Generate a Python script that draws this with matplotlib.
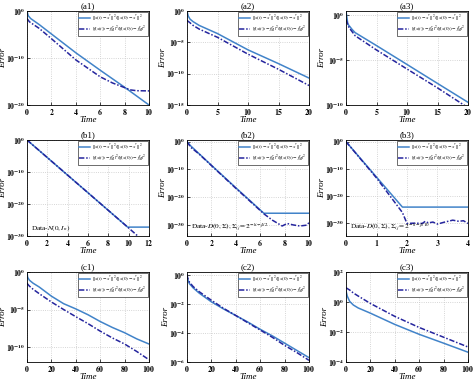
import numpy as np
import matplotlib
matplotlib.use("Agg")
import matplotlib.pyplot as plt
from matplotlib.ticker import FixedLocator, FuncFormatter, NullLocator

plt.rcParams['font.family'] = ['Liberation Serif', 'DejaVu Serif']
plt.rcParams['mathtext.fontset'] = 'stix'

C_SOLID = '#4183c9'
C_DASH = '#25259e'

LEG1 = r'$\|x(t)-x^{*}\|^2/\|x(0)-x^{*}\|^2$'
LEG2 = r'$|f(x(t))-f_{M}^{*}|^2/|f(x(0))-f_{M}^{*}|^2$'

# ---------------- data ----------------
a1_ts = [0, 0.1, 0.3, 1, 2, 4, 6, 8, 10]
a1_s = [1.0, 1e-1, 2.5e-2, 1.3e-3, 1.3e-5, 1.3e-9, 2.5e-13, 6e-17, 1e-20]
a1_td = [0, 0.2, 1, 2, 4, 6, 7, 8, 8.5, 9, 10]
a1_d = [2.5e-2, 5e-3, 2e-4, 1.3e-6, 4e-11, 1e-14, 5e-16, 5e-17, 1.6e-17, 1.1e-17, 1e-17]

a2_ts = [0, 0.2, 0.5, 1, 2, 5, 10, 15, 20]
a2_s = [1.0, 1.6e-1, 5e-2, 2e-2, 5e-3, 2.5e-4, 6.3e-7, 4e-9, 2e-11]
a2_td = [0, 0.5, 1, 2, 5, 10, 15, 20]
a2_d = [3.2e-2, 1.3e-2, 5e-3, 1.3e-3, 6.3e-5, 1.3e-7, 5e-10, 1.3e-12]

a3_ts = [0, 0.3, 1, 1.5, 5, 10, 15, 20]
a3_s = [2.8, 1e-1, 2.5e-2, 1.1e-2, 4e-4, 3.2e-6, 2.5e-8, 2e-10]
a3_td = [0, 0.5, 1.5, 5, 10, 15, 20]
a3_d = [3.2e-1, 4e-2, 5e-3, 1.3e-4, 1e-6, 8e-9, 5e-11]

b1_ts = [0, 2, 4, 6, 8, 9.9, 12]
b1_s = [1.0, 3.2e-6, 1e-11, 3.2e-17, 1e-22, 6e-28, 6e-28]
b1_td = [0, 2, 4, 6, 8, 10, 11]
b1_d = [1.0, 3.2e-6, 1e-11, 3.2e-17, 1e-22, 3.2e-28, 5e-31]

b2_ts = [0, 0.3, 2, 4, 6.3, 10]
b2_s = [1.0, 3.2e-2, 3.2e-9, 2.5e-17, 1.6e-26, 1.6e-26]
b2_td = [0, 0.3, 1, 2, 4, 6.3, 7, 7.5, 7.8, 8.2, 8.7, 9.25, 9.8, 10]
b2_d = [1.0, 1e-2, 3.2e-5, 2.5e-9, 1.6e-17, 1e-26, 5e-29, 2.5e-30, 4e-31, 3.2e-30, 1e-30, 4e-31, 8e-31, 6e-30]

b3_ts = [0, 1.0, 1.85, 4]
b3_s = [1.0, 1e-13, 1e-24, 1e-24]
b3_td = [0, 1.0, 1.85, 2.0, 2.25, 2.5, 2.6, 2.7, 2.85, 3.0, 3.2, 3.5, 3.7, 3.85, 4.0]
b3_d = [1.0, 5e-14, 1e-26, 1e-30, 1.3e-30, 1e-30, 6e-30, 1.6e-30, 3.2e-30, 6e-31, 2.5e-30, 1.6e-29, 6e-30, 1e-29, 1e-30]

c_t = [0, 0.5, 2, 5, 10, 20, 30, 40, 50, 60, 70, 80, 90, 100]
c1_s = [1.0, 2e-1, 8e-2, 3.2e-2, 1e-2, 6e-4, 6e-5, 1.2e-5, 2e-6, 2.5e-7, 4e-8, 8e-9, 1.2e-9, 2.5e-10]
c1_d = [3.2e-2, 2.5e-2, 1.3e-2, 5e-3, 1.3e-3, 1e-4, 1e-5, 1.1e-6, 1.3e-7, 1.3e-8, 1.6e-9, 2.5e-10, 2.5e-11, 2e-12]
c2_s = [1.0, 5e-1, 2.5e-1, 1.3e-1, 5.6e-2, 1.4e-2, 4.5e-3, 1.6e-3, 5.6e-4, 1.8e-4, 6.3e-5, 2e-5, 6.3e-6, 2e-6]
c2_d = [1.1, 6.3e-1, 3.2e-1, 1.6e-1, 7e-2, 1.8e-2, 5e-3, 1.6e-3, 5e-4, 1.6e-4, 5e-5, 1.4e-5, 4.5e-6, 1.3e-6]
c3_ts = [0, 1, 3, 6, 10, 20, 40, 60, 80, 100]
c3_s = [5.6, 2.5, 1.1, 6.3e-1, 4e-1, 1.8e-1, 3.2e-2, 7e-3, 1.8e-3, 4.5e-4]
c3_d = [8.9, 7.9, 6.3, 4e-0, 2.5, 8e-1, 1.1e-1, 2e-2, 4.5e-3, 1e-3]

panels = [
    dict(title='(a1)', ts=a1_ts, s=a1_s, td=a1_td, d=a1_d, xlim=(0, 10), xt=[0, 2, 4, 6, 8, 10],
         ylim=(1e-20, 1e0), yt=[0, -10, -20], note=None),
    dict(title='(a2)', ts=a2_ts, s=a2_s, td=a2_td, d=a2_d, xlim=(0, 20), xt=[0, 5, 10, 15, 20],
         ylim=(1e-15, 1e0), yt=[0, -5, -10, -15], note=None),
    dict(title='(a3)', ts=a3_ts, s=a3_s, td=a3_td, d=a3_d, xlim=(0, 20), xt=[0, 5, 10, 15, 20],
         ylim=(1e-10, 2.8e0), yt=[0, -5, -10], note=None),
    dict(title='(b1)', ts=b1_ts, s=b1_s, td=b1_td, d=b1_d, xlim=(0, 12), xt=[0, 2, 4, 6, 8, 10, 12],
         ylim=(1e-30, 1e0), yt=[0, -10, -20, -30], note=r'Data-$N(0,I_n)$'),
    dict(title='(b2)', ts=b2_ts, s=b2_s, td=b2_td, d=b2_d, xlim=(0, 10), xt=[0, 2, 4, 6, 8, 10],
         ylim=(1e-34, 4e0), yt=[0, -10, -20, -30], note=r'Data-$D(0,\Sigma),\Sigma_{ij}=2^{-|i-j|/2}$'),
    dict(title='(b3)', ts=b3_ts, s=b3_s, td=b3_td, d=b3_d, xlim=(0, 4), xt=[0, 1, 2, 3, 4],
         ylim=(2.5e-35, 4e0), yt=[0, -10, -20, -30], note=r'Data-$D(0,\Sigma),\Sigma_{ij}=2^{-|i-j|/10}$'),
    dict(title='(c1)', ts=c_t, s=c1_s, td=c_t, d=c1_d, xlim=(0, 100), xt=[0, 20, 40, 60, 80, 100],
         ylim=(1e-12, 1e0), yt=[0, -5, -10], note=None),
    dict(title='(c2)', ts=c_t, s=c2_s, td=c_t, d=c2_d, xlim=(0, 100), xt=[0, 20, 40, 60, 80, 100],
         ylim=(1e-6, 1.6e0), yt=[0, -2, -4, -6], note=None),
    dict(title='(c3)', ts=c3_ts, s=c3_s, td=c3_ts, d=c3_d, xlim=(0, 100), xt=[0, 20, 40, 60, 80, 100],
         ylim=(1e-4, 1e2), yt=[2, 0, -2, -4], note=None),
]

W, H = 474, 382
fig = plt.figure(figsize=(W / 100, H / 100), dpi=100)
lefts = [27, 187, 346]
width = 122
rows = [(11, 105), (140, 236), (272, 362)]

fmt = FuncFormatter(lambda v, p: r'$\mathbf{10^{%d}}$' % int(round(np.log10(v))))
xfmt = FuncFormatter(lambda v, p: r'$\mathbf{%g}$' % v)

for i, p in enumerate(panels):
    r, c = divmod(i, 3)
    top, bot = rows[r]
    ax = fig.add_axes([lefts[c] / W, 1 - bot / H, width / W, (bot - top) / H])
    ax.set_yscale('log')
    ax.plot(p['ts'], p['s'], color=C_SOLID, lw=1.1, label=LEG1)
    ax.plot(p['td'], p['d'], color=C_DASH, lw=1.1, ls=(0, (3.5, 1.2, 1, 1.2)), label=LEG2)
    ax.set_xlim(*p['xlim'])
    ax.set_ylim(*p['ylim'])
    ax.xaxis.set_major_locator(FixedLocator(p['xt']))
    ax.xaxis.set_major_formatter(xfmt)
    ax.yaxis.set_major_locator(FixedLocator([10.0 ** k for k in p['yt']]))
    ax.yaxis.set_major_formatter(fmt)
    ax.yaxis.set_minor_locator(NullLocator())
    ax.tick_params(direction='in', length=2, width=0.5, labelsize=5.6, pad=1.2)
    ax.grid(True, which='major', color='#c8c8c8', ls=':', lw=0.6)
    for sp in ax.spines.values():
        sp.set_linewidth(0.6)
    ax.set_title(p['title'], fontsize=6.5, pad=2)
    ax.set_xlabel('Time', fontsize=6.5, style='italic', labelpad=-0.5)
    ax.set_ylabel('Error', fontsize=6.5, style='italic', labelpad=-0.8)
    leg = ax.legend(loc='upper right', fontsize=3.6, handlelength=2.2, handletextpad=0.4,
                    borderpad=0.25, labelspacing=0.1, borderaxespad=0.25, fancybox=False,
                    framealpha=1)
    leg.get_frame().set_edgecolor('#333333')
    leg.get_frame().set_linewidth(0.5)
    if p['note']:
        ax.text(0.03, 0.035, p['note'], transform=ax.transAxes, fontsize=5.2, ha='left', va='bottom')

fig.savefig('out.png', dpi=100)
